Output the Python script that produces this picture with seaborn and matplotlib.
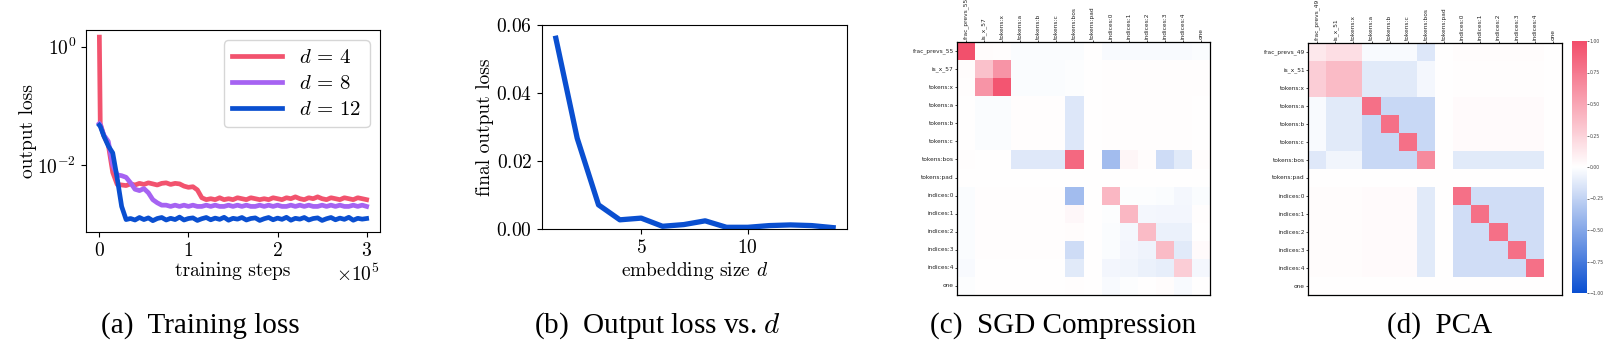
import numpy as np
import pandas as pd
import matplotlib
matplotlib.use("Agg")
import matplotlib.pyplot as plt
import seaborn as sns
from matplotlib.colors import LinearSegmentedColormap
from matplotlib.ticker import NullLocator

# ---- data: (a) training loss ----
steps = [0, 1000, 5000, 10000, 15000, 20000, 25000, 30000, 35000, 40000,
         45000, 50000, 55000, 60000, 65000, 70000, 75000, 80000, 85000, 90000,
         95000, 100000, 105000, 110000, 115000, 120000, 125000, 130000, 135000, 140000,
         145000, 150000, 155000, 160000, 165000, 170000, 175000, 180000, 185000, 190000,
         195000, 200000, 205000, 210000, 215000, 220000, 225000, 230000, 235000, 240000,
         245000, 250000, 255000, 260000, 265000, 270000, 275000, 280000, 285000, 290000,
         295000, 300000]
loss_d4 = [1.44, 0.050, 0.031, 0.022, 0.0075, 0.0047, 0.0046, 0.0045, 0.0048, 0.0046,
           0.0049, 0.0047, 0.0050, 0.0048, 0.0046, 0.0049, 0.0050, 0.0047, 0.0049, 0.0048,
           0.0044, 0.0042, 0.0043, 0.0038, 0.0028, 0.0026, 0.0027, 0.0026, 0.0028, 0.0026,
           0.0027, 0.0026, 0.0028, 0.0027, 0.0026, 0.0028, 0.0027, 0.0026, 0.0027, 0.0026,
           0.0028, 0.0027, 0.0026, 0.0028, 0.0027, 0.0029, 0.0027, 0.0026, 0.0028, 0.0027,
           0.0029, 0.0027, 0.0026, 0.0028, 0.0027, 0.0026, 0.0028, 0.0027, 0.0026, 0.0028,
           0.0027, 0.0026]
loss_d8 = [0.050, 0.048, 0.032, 0.025, 0.010, 0.0068, 0.0066, 0.0062, 0.0050, 0.0039,
           0.0037, 0.0040, 0.0034, 0.0026, 0.0023, 0.0021, 0.0021, 0.0020, 0.0021, 0.0020,
           0.0021, 0.0020, 0.0021, 0.0020, 0.0020, 0.0021, 0.0020, 0.0021, 0.0020, 0.0020,
           0.0021, 0.0020, 0.0021, 0.0020, 0.0021, 0.0020, 0.0020, 0.0021, 0.0020, 0.0021,
           0.0020, 0.0021, 0.0020, 0.0020, 0.0021, 0.0020, 0.0021, 0.0020, 0.0021, 0.0020,
           0.0020, 0.0021, 0.0020, 0.0021, 0.0020, 0.0021, 0.0020, 0.0020, 0.0021, 0.0020,
           0.0021, 0.0020]
loss_d12 = [0.047, 0.045, 0.031, 0.021, 0.016, 0.0060, 0.0020, 0.0012, 0.00125, 0.00118,
            0.0013, 0.00120, 0.00128, 0.00115, 0.00125, 0.0013, 0.00118, 0.00126, 0.00120, 0.00132,
            0.00118, 0.00125, 0.00128, 0.00116, 0.00124, 0.0013, 0.00119, 0.00127, 0.00121, 0.00131,
            0.00117, 0.00126, 0.00122, 0.0013, 0.00118, 0.00125, 0.00128, 0.00116, 0.00124, 0.0013,
            0.00119, 0.00127, 0.00121, 0.00131, 0.00117, 0.00126, 0.00122, 0.0013, 0.00118, 0.00125,
            0.00128, 0.00116, 0.00124, 0.0013, 0.00119, 0.00127, 0.00121, 0.00131, 0.00117, 0.00126,
            0.00122, 0.00125]
run_names = ["$d\\,=\\,4$", "$d\\,=\\,8$", "$d\\,=\\,12$"]
run_colors = ["#f2536e", "#a663f2", "#0a4fd0"]

# ---- data: (b) final loss vs embedding size ----
emb_sizes = [1, 2, 3, 4, 5, 6, 7, 8, 9, 10, 11, 12, 13, 14]
final_loss = [0.0561, 0.0267, 0.0071, 0.0027, 0.0032, 0.0008, 0.0013, 0.0024,
              0.0005, 0.0005, 0.0010, 0.0012, 0.0010, 0.0004]

# ---- data: (c) SGD compression / (d) PCA ----
labels_sgd = ["frac_prevs_55", "is_x_57", "tokens:x", "tokens:a", "tokens:b", "tokens:c",
              "tokens:bos", "tokens:pad", "indices:0", "indices:1", "indices:2",
              "indices:3", "indices:4", "one"]
labels_pca = ["frac_prevs_49", "is_x_51", "tokens:x", "tokens:a", "tokens:b", "tokens:c",
              "tokens:bos", "tokens:pad", "indices:0", "indices:1", "indices:2",
              "indices:3", "indices:4", "one"]
sgd = [
    [0.98, 0.02, 0.01, -0.02, -0.02, -0.02, -0.02, 0.0, -0.03, -0.03, -0.03, -0.03, -0.03, -0.02],
    [0.02, 0.35, 0.60, -0.02, -0.02, -0.02, -0.01, 0.0, 0.01, 0.01, 0.01, 0.01, 0.01, 0.01],
    [0.01, 0.60, 0.95, -0.02, -0.02, -0.02, -0.01, 0.0, 0.01, 0.01, 0.01, 0.01, 0.01, 0.01],
    [0.0, -0.02, -0.02, 0.01, 0.01, 0.01, -0.14, 0.0, 0.01, 0.01, 0.01, 0.01, 0.01, 0.0],
    [0.0, -0.02, -0.02, 0.01, 0.01, 0.01, -0.14, 0.0, 0.01, 0.01, 0.01, 0.01, 0.01, 0.0],
    [0.0, -0.02, -0.02, 0.01, 0.01, 0.01, -0.14, 0.0, 0.01, 0.01, 0.01, 0.01, 0.01, 0.0],
    [0.01, 0.0, 0.0, -0.13, -0.13, -0.13, 0.85, 0.0, -0.38, 0.05, 0.02, -0.20, -0.12, 0.02],
    [0.0, 0.0, 0.0, 0.0, 0.0, 0.0, 0.0, 0.0, 0.0, 0.0, 0.0, 0.0, 0.0, 0.0],
    [-0.02, 0.01, 0.01, 0.01, 0.01, 0.01, -0.38, 0.0, 0.40, -0.01, -0.01, -0.02, -0.04, -0.02],
    [-0.02, 0.01, 0.01, 0.01, 0.01, 0.01, 0.04, 0.0, -0.01, 0.40, -0.04, -0.05, -0.05, 0.01],
    [-0.02, 0.01, 0.01, 0.01, 0.01, 0.01, 0.02, 0.0, -0.02, -0.04, 0.38, -0.08, -0.08, 0.0],
    [-0.02, 0.01, 0.01, 0.01, 0.01, 0.01, -0.20, 0.0, -0.02, -0.05, -0.07, 0.38, -0.12, 0.03],
    [-0.03, 0.0, 0.0, 0.0, 0.0, 0.0, -0.12, 0.0, -0.05, -0.06, -0.08, -0.10, 0.28, -0.04],
    [-0.01, 0.0, 0.0, 0.0, 0.0, 0.0, 0.01, 0.0, -0.03, -0.01, 0.0, 0.02, -0.03, 0.0],
]
pca = [
    [0.13, 0.18, 0.18, -0.03, -0.03, -0.03, -0.14, 0.0, 0.02, 0.02, 0.02, 0.02, 0.02, 0.0],
    [0.28, 0.38, 0.38, -0.12, -0.12, -0.12, -0.04, 0.0, 0.01, 0.01, 0.01, 0.01, 0.01, 0.0],
    [0.28, 0.38, 0.38, -0.12, -0.12, -0.12, -0.04, 0.0, 0.01, 0.01, 0.01, 0.01, 0.01, 0.0],
    [-0.03, -0.12, -0.12, 0.80, -0.22, -0.22, -0.22, 0.0, 0.03, 0.03, 0.03, 0.03, 0.03, 0.0],
    [-0.03, -0.12, -0.12, -0.22, 0.80, -0.22, -0.22, 0.0, 0.03, 0.03, 0.03, 0.03, 0.03, 0.0],
    [-0.03, -0.12, -0.12, -0.22, -0.22, 0.80, -0.22, 0.0, 0.03, 0.03, 0.03, 0.03, 0.03, 0.0],
    [-0.13, -0.06, -0.06, -0.22, -0.22, -0.22, 0.65, 0.0, -0.12, -0.12, -0.12, -0.12, -0.12, 0.0],
    [0.0, 0.0, 0.0, 0.0, 0.0, 0.0, 0.0, 0.0, 0.0, 0.0, 0.0, 0.0, 0.0, 0.0],
    [0.02, 0.02, 0.02, 0.03, 0.03, 0.03, -0.12, 0.0, 0.80, -0.19, -0.19, -0.19, -0.19, 0.0],
    [0.02, 0.02, 0.02, 0.03, 0.03, 0.03, -0.12, 0.0, -0.19, 0.80, -0.19, -0.19, -0.19, 0.0],
    [0.02, 0.02, 0.02, 0.03, 0.03, 0.03, -0.12, 0.0, -0.19, -0.19, 0.80, -0.19, -0.19, 0.0],
    [0.02, 0.02, 0.02, 0.03, 0.03, 0.03, -0.12, 0.0, -0.19, -0.19, -0.19, 0.80, -0.19, 0.0],
    [0.02, 0.02, 0.02, 0.03, 0.03, 0.03, -0.12, 0.0, -0.19, -0.19, -0.19, -0.19, 0.80, 0.0],
    [0.0, 0.0, 0.0, 0.0, 0.0, 0.0, 0.0, 0.0, 0.0, 0.0, 0.0, 0.0, 0.0, 0.0],
]

captions = ["(a)  Training loss", "(b)  Output loss vs. $d$",
            "(c)  SGD Compression", "(d)  PCA"]

plt.rcParams["font.family"] = "serif"
plt.rcParams["font.serif"] = ["cmr10", "DejaVu Serif"]
plt.rcParams["mathtext.fontset"] = "cm"
plt.rcParams["axes.formatter.use_mathtext"] = True
plt.rcParams["axes.unicode_minus"] = True

fig = plt.figure(figsize=(16.03, 3.5), dpi=100)
W, H = 1603, 350
FS = 14

def px_axes(left, top, right, bottom):
    return fig.add_axes([left / W, 1 - bottom / H, (right - left) / W, (bottom - top) / H])

# ---- (a) ----
ax_a = px_axes(86, 30, 380, 232)
df_a = pd.DataFrame({
    "step": steps * 3,
    "loss": loss_d4 + loss_d8 + loss_d12,
    "run": [run_names[0]] * len(steps) + [run_names[1]] * len(steps) + [run_names[2]] * len(steps),
})
sns.lineplot(data=df_a, x="step", y="loss", hue="run", palette=run_colors,
             estimator=None, errorbar=None, linewidth=3.4, ax=ax_a)
ax_a.set_yscale("log")
ax_a.set_ylim(7.4e-4, 1.9)
ax_a.set_yticks([1e-2, 1e0])
ax_a.yaxis.set_minor_locator(NullLocator())
ax_a.set_xticks([0, 100000, 200000, 300000])
ax_a.ticklabel_format(style="sci", axis="x", scilimits=(0, 0), useMathText=True)
ax_a.xaxis.get_offset_text().set_fontsize(FS)
ax_a.set_xlabel("training steps", fontsize=FS, labelpad=2)
ax_a.set_ylabel("output loss", fontsize=FS, labelpad=0)
ax_a.tick_params(labelsize=FS)
leg = ax_a.legend(loc="upper right", fontsize=15, handlelength=2.4, borderpad=0.4,
                  labelspacing=0.35, handletextpad=0.8)
for line in leg.get_lines():
    line.set_linewidth(3.4)

# ---- (b) ----
ax_b = px_axes(542, 25, 847, 229)
sns.lineplot(x=emb_sizes, y=final_loss, color="#0a4fd0", linewidth=3.8, ax=ax_b)
ax_b.set_ylim(0, 0.06)
ax_b.set_yticks([0.0, 0.02, 0.04, 0.06])
ax_b.set_xticks([5, 10])
ax_b.set_xlabel("embedding size $d$", fontsize=FS, labelpad=2)
ax_b.set_ylabel("final output loss", fontsize=FS, labelpad=2)
ax_b.tick_params(labelsize=FS)

# ---- (c), (d) heatmaps ----
cmap = LinearSegmentedColormap.from_list("bwr_soft", ["#0a4fd1", "#ffffff", "#f24d6a"])
ax_c = px_axes(957, 42, 1210, 295)
ax_d = px_axes(1308, 43, 1562, 295)
cax = px_axes(1572, 41, 1587, 293)

for ax, mat, labs in [(ax_c, sgd, labels_sgd), (ax_d, pca, labels_pca)]:
    sns.heatmap(pd.DataFrame(mat, index=labs, columns=labs), cmap=cmap, vmin=-1, vmax=1,
                ax=ax, cbar=(ax is ax_d), cbar_ax=cax if ax is ax_d else None,
                square=False)
    ax.xaxis.tick_top()
    ax.set_xticklabels(labs, rotation=90, fontsize=4.2, family="DejaVu Sans", color="#222222")
    ax.set_yticklabels(labs, rotation=0, fontsize=4.2, family="DejaVu Sans", color="#222222")
    ax.tick_params(length=1.6, width=0.5, pad=0.8)
    for sp in ax.spines.values():
        sp.set_visible(True)
        sp.set_linewidth(0.9)
    ax.set_xlabel("")
    ax.set_ylabel("")

cbar_ticks = [-1, -0.75, -0.5, -0.25, 0, 0.25, 0.5, 0.75, 1]
cax.tick_params(labelsize=3.3, length=1.3, width=0.4, pad=0.6)
cax.set_yticks(cbar_ticks)
cax.set_yticklabels([f"{v:.2f}".replace("-", "\u2212") for v in cbar_ticks],
                    family="DejaVu Sans", fontsize=3.3, color="#444444")

# ---- captions ----
for cx, txt in zip([200, 657, 1063, 1440], captions):
    fig.text(cx / W, 1 - 326 / H, txt, ha="center", va="center", fontsize=21,
             family="Liberation Serif")

fig.savefig("out.png", dpi=100, facecolor="white")
